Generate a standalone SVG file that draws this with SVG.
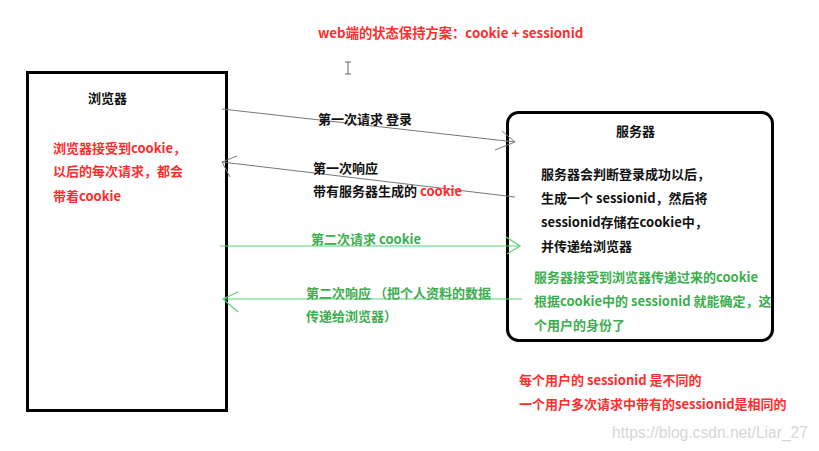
<svg xmlns="http://www.w3.org/2000/svg" width="819" height="451" viewBox="0 0 819 451">
<defs>
<style>
.t{font-family:"Microsoft YaHei","Noto Sans CJK SC","Noto Sans",sans-serif;font-size:13px;font-weight:bold}
.red{fill:#ff2d2d}
.blk{fill:#111}
.grn{fill:#3dae4f}
.box{fill:#fff;stroke:#000;stroke-width:3}
.gl{stroke:#777;stroke-width:1;fill:none}
.gr{stroke:#5ccf79;stroke-width:1.2;fill:none}
</style>
</defs>
<rect width="819" height="451" fill="#fff"/>
<text class="t red" x="318" y="38" style="font-size:13.3px">web端的状态保持方案：cookie + sessionid</text>
<path d="M345 62h6M348 62v12M345 74h6" stroke="#666" stroke-width="1" fill="none"/>
<g id="browser">
<rect class="box" x="27.5" y="72.5" width="199" height="338"/>
<text class="t blk" x="88" y="103">浏览器</text>
<text class="t red" x="53" y="153">浏览器接受到cookie，</text>
<text class="t red" x="53" y="176">以后的每次请求，都会</text>
<text class="t red" x="53" y="201">带着cookie</text>
</g>
<g id="server">
<rect class="box" x="507.5" y="112.5" width="265" height="228" rx="11"/>
<text class="t blk" x="616" y="136">服务器</text>
<text class="t blk" x="541" y="179">服务器会判断登录成功以后，</text>
<text class="t blk" x="541" y="203">生成一个 sessionid，然后将</text>
<text class="t blk" x="541" y="227">sessionid存储在cookie中，</text>
<text class="t blk" x="541" y="251">并传递给浏览器</text>
<text class="t grn" x="534" y="282">服务器接受到浏览器传递过来的cookie</text>
<text class="t grn" x="534" y="306">根据cookie中的 sessionid 就能确定，这</text>
<text class="t grn" x="534" y="330">个用户的身份了</text>
</g>
<g id="connectors">
<path class="gl" d="M222 109L515 142M502 131L515 142L495 150"/>
<path class="gl" d="M515 197L222 162M237 156L222 162L230 177"/>
<path class="gr" d="M220 246L520 246M506 237L520 246L507 254"/>
<path class="gr" d="M522 299L223 299M238 292L223 299L238 312"/>
<text class="t blk" x="318" y="124">第一次请求 登录</text>
<text class="t blk" x="313" y="173">第一次响应</text>
<text class="t blk" x="313" y="196">带有服务器生成的 <tspan class="red">cookie</tspan></text>
<text class="t grn" x="311" y="244">第二次请求 cookie</text>
<text class="t grn" x="306" y="298">第二次响应 （把个人资料的数据</text>
<text class="t grn" x="306" y="321">传递给浏览器）</text>
</g>
<text class="t red" x="519" y="385">每个用户的 sessionid 是不同的</text>
<text class="t red" x="519" y="409">一个用户多次请求中带有的sessionid是相同的</text>
<text x="612" y="438" font-family="Liberation Sans,Arial,sans-serif" font-size="15.6" fill="#d6d6d6">https://blog.csdn.net/Liar_27</text>
</svg>
